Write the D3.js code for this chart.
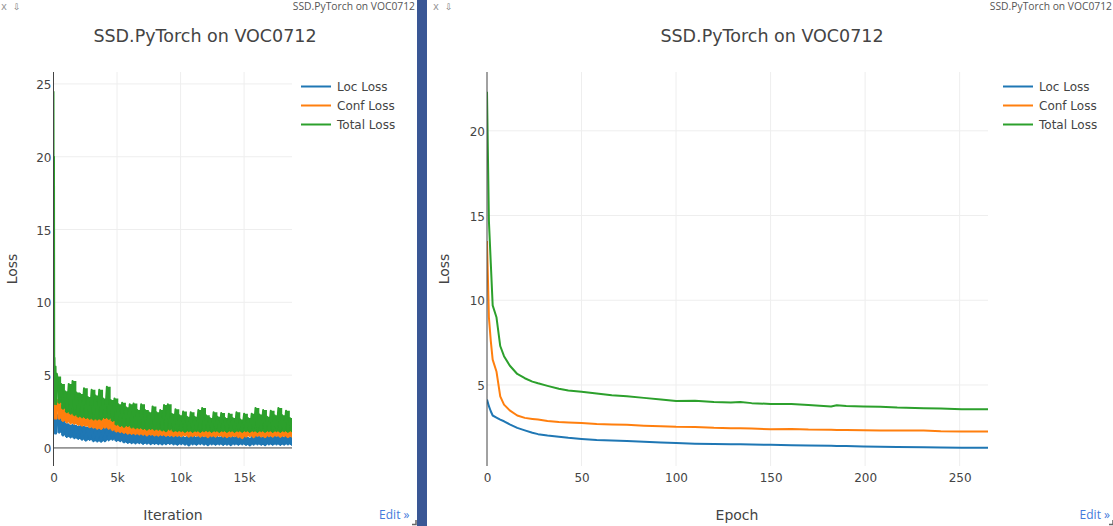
<!DOCTYPE html>
<html>
<head>
<meta charset="utf-8">
<script src="https://cdn.jsdelivr.net/npm/d3@7"></script>
<style>
  html, body { margin: 0; padding: 0; background: #fff; overflow: hidden; }
  text { font-family: "DejaVu Sans", sans-serif; }
</style>
</head>
<body>
<svg id="chart" width="1113" height="526"></svg>
<script>
const title = "SSD.PyTorch on VOC0712";
const seriesNames = ["Loc Loss", "Conf Loss", "Total Loss"];
const colors = ["#1f77b4", "#ff7f0e", "#2ca02c"];

// iteration panel: first iterations are read one by one
const earlyIters = [0, 30, 40, 60, 80, 120, 160, 200, 260];
const earlyLoc = [4.2, 1.2, 2.6, 1.1, 2.6, 1.0, 2.4, 1.0, 2.3];
const earlyConf = [12, 2, 6, 2.2, 4.3, 2.1, 3.8, 2, 3.3];
const earlyTotal = [24.5, 3, 20, 3.5, 6.2, 3.2, 5.6, 3, 5.1];

// after that the noise band is read as top and bottom every 300 iterations
const locTop = [2.2, 1.9, 1.7, 1.6, 1.6, 1.5, 1.5, 1.45, 1.4, 1.4, 1.35, 1.35, 1.4, 1.4, 1.3, 1.25, 1.1, 1.05, 1.0, 1.0, 0.95, 0.95, 0.95, 0.9, 0.9, 0.85, 0.85, 0.85, 0.85, 0.8, 0.8, 0.8, 0.75, 0.75, 0.75, 0.8, 0.75, 0.8, 0.75, 0.75, 0.8, 0.75, 0.75, 0.75, 0.8, 0.75, 0.75, 0.8, 0.75, 0.75, 0.7, 0.75, 0.8, 0.75, 0.75, 0.8, 0.75, 0.8, 0.75, 0.75, 0.8, 0.75, 0.75];
const locBottom = [1.05, 0.85, 0.75, 0.72, 0.66, 0.62, 0.56, 0.5, 0.55, 0.46, 0.44, 0.42, 0.46, 0.52, 0.56, 0.48, 0.46, 0.38, 0.34, 0.32, 0.3, 0.32, 0.27, 0.29, 0.25, 0.27, 0.25, 0.23, 0.26, 0.27, 0.23, 0.21, 0.25, 0.22, 0.17, 0.23, 0.21, 0.25, 0.22, 0.19, 0.23, 0.21, 0.24, 0.2, 0.22, 0.19, 0.24, 0.21, 0.23, 0.2, 0.17, 0.22, 0.24, 0.21, 0.19, 0.23, 0.21, 0.24, 0.2, 0.22, 0.23, 0.21, 0.22];
const confTop = [3.3, 2.9, 2.6, 2.5, 2.4, 2.3, 2.2, 2.2, 2.15, 2.1, 2.1, 2.05, 2.15, 2.1, 1.95, 1.8, 1.6, 1.5, 1.6, 1.45, 1.4, 1.4, 1.35, 1.3, 1.35, 1.3, 1.3, 1.25, 1.2, 1.3, 1.2, 1.2, 1.2, 1.15, 1.2, 1.15, 1.2, 1.15, 1.2, 1.2, 1.15, 1.2, 1.15, 1.2, 1.15, 1.2, 1.15, 1.2, 1.15, 1.2, 1.15, 1.2, 1.15, 1.2, 1.15, 1.2, 1.15, 1.2, 1.15, 1.2, 1.15, 1.2, 1.15];
const confBottom = [2.0, 1.85, 1.75, 1.68, 1.65, 1.58, 1.52, 1.5, 1.42, 1.38, 1.32, 1.3, 1.38, 1.32, 1.22, 1.12, 1.08, 1.02, 0.98, 0.96, 0.94, 0.92, 0.9, 0.86, 0.9, 0.86, 0.84, 0.87, 0.82, 0.84, 0.8, 0.82, 0.8, 0.84, 0.77, 0.8, 0.82, 0.77, 0.8, 0.74, 0.8, 0.77, 0.82, 0.77, 0.74, 0.78, 0.8, 0.74, 0.67, 0.77, 0.8, 0.74, 0.82, 0.78, 0.74, 0.8, 0.77, 0.82, 0.76, 0.8, 0.74, 0.78, 0.76];
const totalTop = [4.9, 4.4, 3.9, 4.4, 4.6, 3.8, 3.7, 4.1, 3.5, 4.0, 3.6, 4.0, 3.4, 4.2, 3.3, 3.4, 3.0, 3.1, 2.8, 3.0, 3.05, 2.6, 3.0, 2.6, 2.45, 2.85, 2.45, 2.6, 2.95, 3.0, 2.35, 2.65, 2.25, 2.5, 2.15, 2.45, 2.15, 2.6, 2.75, 2.25, 2.05, 2.45, 2.15, 2.4, 2.05, 2.35, 2.05, 2.45, 1.95, 2.35, 2.05, 2.35, 2.75, 2.3, 2.6, 2.15, 2.55, 2.25, 2.75, 2.25, 2.55, 2.05, 2.2];
const totalBottom = [3.1, 2.7, 2.45, 2.35, 2.25, 2.15, 2.1, 2.05, 2.0, 1.95, 1.95, 1.95, 2.05, 2.0, 1.85, 1.6, 1.5, 1.45, 1.5, 1.4, 1.35, 1.35, 1.3, 1.25, 1.3, 1.25, 1.25, 1.2, 1.15, 1.25, 1.15, 1.15, 1.15, 1.1, 1.15, 1.1, 1.15, 1.1, 1.15, 1.15, 1.1, 1.15, 1.1, 1.15, 1.1, 1.15, 1.1, 1.15, 1.1, 1.15, 1.1, 1.15, 1.1, 1.15, 1.1, 1.15, 1.1, 1.15, 1.1, 1.15, 1.1, 1.15, 1.1];
const bandStart = 300;
const bandStep = 300;

// epoch panel
const epochs = [0, 1, 2, 3, 5, 7, 9, 12, 16, 20, 24, 27, 32, 38, 43, 50, 58, 66, 74, 83, 92, 100, 110, 120, 129, 134, 140, 150, 161, 170, 182, 185, 190, 199, 208, 217, 231, 240, 251, 265];
const epochLoc = [4.14, 3.75, 3.45, 3.2, 3.08, 2.96, 2.86, 2.68, 2.47, 2.32, 2.18, 2.1, 2.02, 1.94, 1.88, 1.82, 1.76, 1.72, 1.69, 1.65, 1.6, 1.57, 1.54, 1.52, 1.51, 1.5, 1.49, 1.47, 1.44, 1.43, 1.41, 1.4, 1.4, 1.37, 1.36, 1.34, 1.32, 1.31, 1.29, 1.29];
const epochConf = [13.5, 9, 7.6, 6.5, 5.8, 4.33, 3.84, 3.5, 3.2, 3.06, 3.0, 2.96, 2.88, 2.81, 2.79, 2.76, 2.7, 2.67, 2.65, 2.6, 2.57, 2.53, 2.52, 2.47, 2.45, 2.45, 2.43, 2.39, 2.4, 2.37, 2.36, 2.35, 2.34, 2.33, 2.32, 2.31, 2.31, 2.27, 2.25, 2.25];
const epochTotal = [22.3, 14.7, 12.2, 9.7, 9.0, 7.3, 6.7, 6.15, 5.65, 5.4, 5.2, 5.1, 4.95, 4.78, 4.67, 4.6, 4.5, 4.4, 4.33, 4.24, 4.15, 4.05, 4.07, 4.0, 3.96, 4.0, 3.93, 3.88, 3.88, 3.82, 3.73, 3.8, 3.76, 3.73, 3.72, 3.67, 3.63, 3.62, 3.57, 3.57];

const iterTicks = [0, 5000, 10000, 15000];
const iterTickLabels = ["0", "5k", "10k", "15k"];
const lossTicksLeft = [0, 5, 10, 15, 20, 25];
const epochTicks = [0, 50, 100, 150, 200, 250];
const lossTicksRight = [5, 10, 15, 20];

const svg = d3.select("#chart");

// join the read tops and bottoms into the jagged line of one noisy series
function noisyLine(earlyValues, top, bottom) {
  const points = earlyIters.map((it, i) => [it, earlyValues[i]]);
  top.forEach((v, i) => {
    points.push([bandStart + i * bandStep, v]);
    points.push([bandStart + i * bandStep + bandStep / 2, bottom[i]]);
  });
  return points;
}

function bandOf(top, bottom) {
  return top.map((v, i) => ({ it: bandStart + i * bandStep, top: v, bottom: bottom[i] }));
}

function drawPanel(p) {
  const g = svg.append("g");
  const x = d3.scaleLinear().domain(p.xDomain).range([p.plotLeft, p.plotRight]);
  const y = d3.scaleLinear().domain(p.yDomain).range([466, 72]);

  // grid
  g.selectAll(".gx").data(p.xTicks.filter(d => d !== 0)).enter().append("line")
    .attr("x1", d => x(d)).attr("x2", d => x(d))
    .attr("y1", 72).attr("y2", 466)
    .attr("stroke", "#eee").attr("stroke-width", 1);
  g.selectAll(".gy").data(p.yTicks.filter(d => d !== 0)).enter().append("line")
    .attr("x1", p.plotLeft).attr("x2", p.plotRight)
    .attr("y1", d => y(d)).attr("y2", d => y(d))
    .attr("stroke", "#eee").attr("stroke-width", 1);

  const clipId = `clip${p.closeX}`;
  g.append("clipPath").attr("id", clipId).append("rect")
    .attr("x", p.plotLeft).attr("y", 72)
    .attr("width", p.plotRight - p.plotLeft).attr("height", 394);

  const plot = g.append("g").attr("clip-path", `url(#${clipId})`);
  const line = d3.line().x(d => x(d[0])).y(d => y(d[1]));
  const area = d3.area().curve(d3.curveStepAfter)
    .x(d => x(d.it)).y0(d => y(d.bottom)).y1(d => y(d.top));

  p.series.forEach((s, i) => {
    // solid body of the noise band under the line
    if (p.bands) {
      plot.append("path").datum(p.bands[i])
        .attr("fill", colors[i]).attr("d", area);
    }
    plot.append("path").datum(s)
      .attr("fill", "none")
      .attr("stroke", colors[i])
      .attr("stroke-width", 2)
      .attr("stroke-linejoin", "round")
      .attr("d", line);
  });

  // axes
  const xAxis = d3.axisBottom(x).tickValues(p.xTicks).tickSize(0).tickPadding(7)
    .tickFormat((d, i) => p.xLabels[i]);
  const xG = g.append("g").attr("transform", "translate(0,466)").call(xAxis);
  xG.select(".domain").remove();
  const yAxis = d3.axisLeft(y).tickValues(p.yTicks).tickSize(0).tickPadding(2);
  const yG = g.append("g").attr("transform", `translate(${p.plotLeft},0)`).call(yAxis);
  yG.select(".domain").remove();
  yG.selectAll(".tick text").attr("y", 0.8);
  g.selectAll(".tick text").attr("fill", "#444").style("font-size", "12px")
    .style("font-family", '"DejaVu Sans", sans-serif');

  g.append("line").attr("x1", p.plotLeft).attr("x2", p.plotLeft)
    .attr("y1", 72).attr("y2", 466)
    .attr("stroke", "#444").attr("stroke-width", 1);
  if (p.yTicks.includes(0)) {
    g.append("line").attr("x1", p.plotLeft).attr("x2", p.plotRight)
      .attr("y1", y(0)).attr("y2", y(0))
      .attr("stroke", "#444").attr("stroke-width", 1);
  }

  // titles
  g.append("text").attr("x", p.titleX).attr("y", 42).attr("text-anchor", "middle")
    .attr("fill", "#444").style("font-size", "17.5px").text(title);
  g.append("text").attr("x", p.xTitleX).attr("y", 520).attr("text-anchor", "middle")
    .attr("fill", "#444").style("font-size", "14px").text(p.xTitle);
  g.append("text").attr("transform", `translate(${p.yTitleX},269) rotate(-90)`)
    .attr("text-anchor", "middle").attr("fill", "#444")
    .style("font-size", "14px").text("Loss");

  // legend
  const legend = g.selectAll(".legend").data(seriesNames).enter().append("g")
    .attr("transform", (d, i) => `translate(${p.legendX},${86.5 + i * 19})`);
  legend.append("line").attr("x1", 0).attr("x2", 30)
    .attr("stroke", (d, i) => colors[i]).attr("stroke-width", 2);
  legend.append("text").attr("x", 36).attr("y", 4.5)
    .attr("fill", "#444").style("font-size", "12px").text(d => d);

  // window chrome
  g.append("text").attr("x", p.closeX + 1).attr("y", 10).attr("fill", "#999")
    .style("font-size", "10px").text("x");
  g.append("text").attr("x", p.closeX + 13).attr("y", 10).attr("fill", "#777")
    .style("font-size", "9px").text("⇩");
  g.append("text").attr("x", p.right - 1).attr("y", 10).attr("text-anchor", "end")
    .attr("fill", "#555").style("font-family", '"Open Sans", sans-serif')
    .style("font-size", "10.3px").text(title);
  g.append("text").attr("x", p.editRight).attr("y", 519).attr("text-anchor", "end")
    .attr("fill", "#447adb").style("font-family", '"Open Sans", sans-serif')
    .style("font-size", "12px").text("Edit »");
  g.append("path").attr("d", `M${p.right - 4},524.5H${p.right}V520`)
    .attr("fill", "none").attr("stroke", "#666").attr("stroke-width", 1.5);
}

drawPanel({
  right: 416, editRight: 409.5, plotLeft: 53.5, plotRight: 292,
  xDomain: [0, 18770], yDomain: [-1.24, 25.82],
  xTicks: iterTicks, xLabels: iterTickLabels, yTicks: lossTicksLeft,
  series: [
    noisyLine(earlyLoc, locTop, locBottom),
    noisyLine(earlyConf, confTop, confBottom),
    noisyLine(earlyTotal, totalTop, totalBottom)
  ],
  bands: [bandOf(locTop, locBottom), bandOf(confTop, confBottom), bandOf(totalTop, totalBottom)],
  xTitle: "Iteration", titleX: 205, xTitleX: 173, yTitleX: 17, legendX: 301, closeX: 0
});

drawPanel({
  right: 1113, editRight: 1110, plotLeft: 487, plotRight: 988,
  xDomain: [0, 265], yDomain: [0.22, 23.47],
  xTicks: epochTicks, xLabels: epochTicks.map(String), yTicks: lossTicksRight,
  series: [epochLoc, epochConf, epochTotal].map(vals => epochs.map((e, i) => [e, vals[i]])),
  xTitle: "Epoch", titleX: 772, xTitleX: 737, yTitleX: 449, legendX: 1003, closeX: 432
});

// divider between the two windows
svg.append("rect").attr("x", 417).attr("y", 0).attr("width", 10).attr("height", 526)
  .attr("fill", "#3a5795");
</script>
</body>
</html>
